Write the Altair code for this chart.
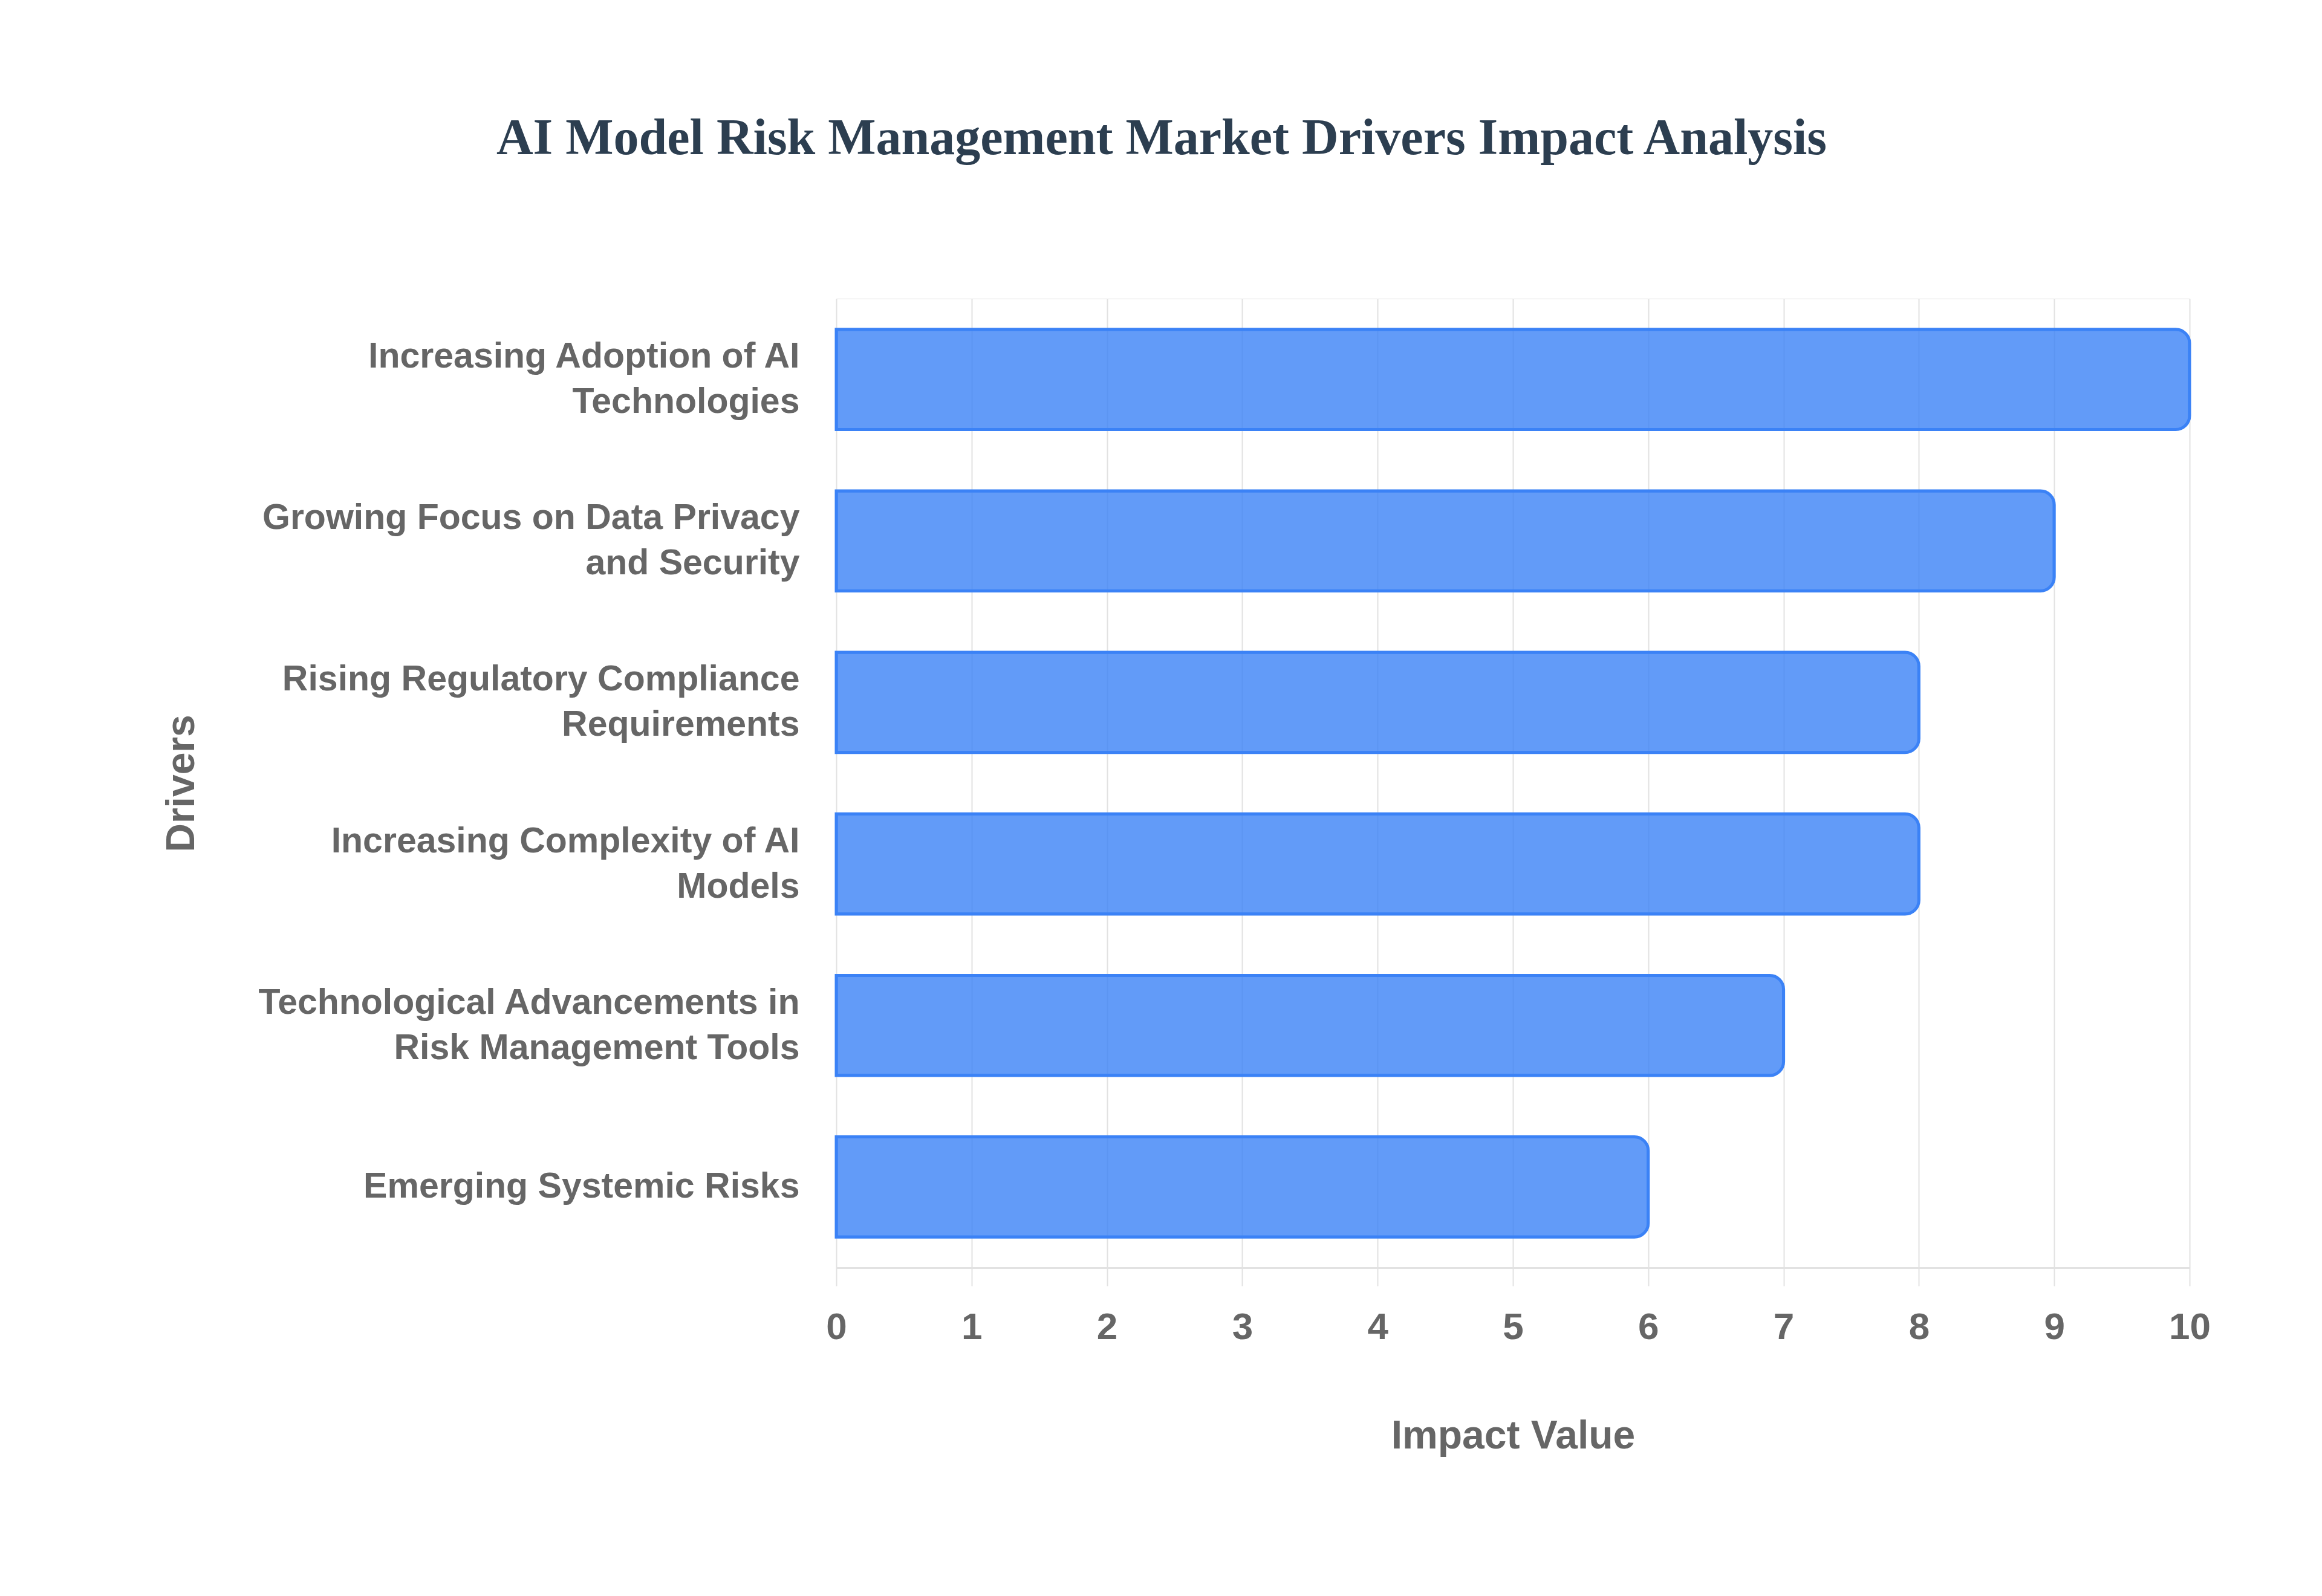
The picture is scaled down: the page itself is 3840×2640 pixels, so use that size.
import altair as alt
import pandas as pd

# Data
drivers = [
    "Increasing Adoption of AI|Technologies",
    "Growing Focus on Data Privacy|and Security",
    "Rising Regulatory Compliance|Requirements",
    "Increasing Complexity of AI|Models",
    "Technological Advancements in|Risk Management Tools",
    "Emerging Systemic Risks",
]
impact = [10, 9, 8, 8, 7, 6]
x_ticks = list(range(0, 11))

df = pd.DataFrame({"Driver": drivers, "Impact": impact})

PLOT_W = 2238
PLOT_H = 1603
LABEL_COLOR = "#666666"
GRID_COLOR = "#e2e2e2"
SANS = "Liberation Sans"
LINE_H = 75

bars = alt.Chart(df).mark_bar(
    fill="#3b82f6",
    fillOpacity=0.8,
    stroke="#3b82f6",
    strokeWidth=5,
    cornerRadiusEnd=23,
).encode(
    x=alt.X(
        "Impact:Q",
        scale=alt.Scale(domain=[0, 10], nice=False),
        axis=alt.Axis(
            title="Impact Value",
            values=x_ticks,
            format="d",
            grid=True,
            gridColor=GRID_COLOR,
            gridWidth=2,
            domain=True,
            domainColor=GRID_COLOR,
            domainWidth=3,
            ticks=True,
            tickColor=GRID_COLOR,
            tickWidth=2,
            tickSize=30,
            labelPadding=38,
            labelFont=SANS,
            labelFontSize=62,
            labelFontWeight="bold",
            labelColor=LABEL_COLOR,
            labelFlush=False,
            titleFont=SANS,
            titleFontSize=66,
            titleFontWeight="bold",
            titleColor=LABEL_COLOR,
            titleX=PLOT_W / 2,
            titleY=298,
            titleBaseline="alphabetic",
            titleAnchor="middle",
            titleAlign="center",
        ),
    ),
    y=alt.Y(
        "Driver:N",
        sort=None,
        scale=alt.Scale(paddingInner=0.38, paddingOuter=0.19),
        axis=alt.Axis(
            title="Drivers",
            labelExpr="split(datum.label, '|')",
            grid=False,
            domain=False,
            ticks=False,
            labelPadding=61,
            labelFont=SANS,
            labelFontSize=59,
            labelFontWeight="bold",
            labelColor=LABEL_COLOR,
            labelLineHeight=LINE_H,
            labelLimit=2000,
            labelOffset={
                "condition": {
                    "test": "indexof(datum.label, '|') >= 0",
                    "value": -LINE_H / 2,
                },
                "value": 0,
            },
            titleFont=SANS,
            titleFontSize=66,
            titleFontWeight="bold",
            titleColor=LABEL_COLOR,
            titleAngle=270,
            titleX=-1083,
            titleY=PLOT_H / 2,
            titleBaseline="middle",
            titleAlign="center",
        ),
    ),
)

chart = bars.properties(
    width=PLOT_W,
    height=PLOT_H,
    title=alt.TitleParams(
        text="AI Model Risk Management Market Drivers Impact Analysis",
        font="Liberation Serif",
        fontSize=84,
        fontWeight="bold",
        color="#2c3e50",
        anchor="middle",
        frame="group",
        dx=-581,
        offset=155,
        baseline="alphabetic",
    ),
    autosize=alt.AutoSizeParams(type="none"),
    padding={"left": 1375, "top": 486, "right": 211, "bottom": 535},
).configure_view(
    stroke=None
).configure(
    background="white"
)

chart.save("out.html", embed_options={"renderer": "svg", "actions": False})
